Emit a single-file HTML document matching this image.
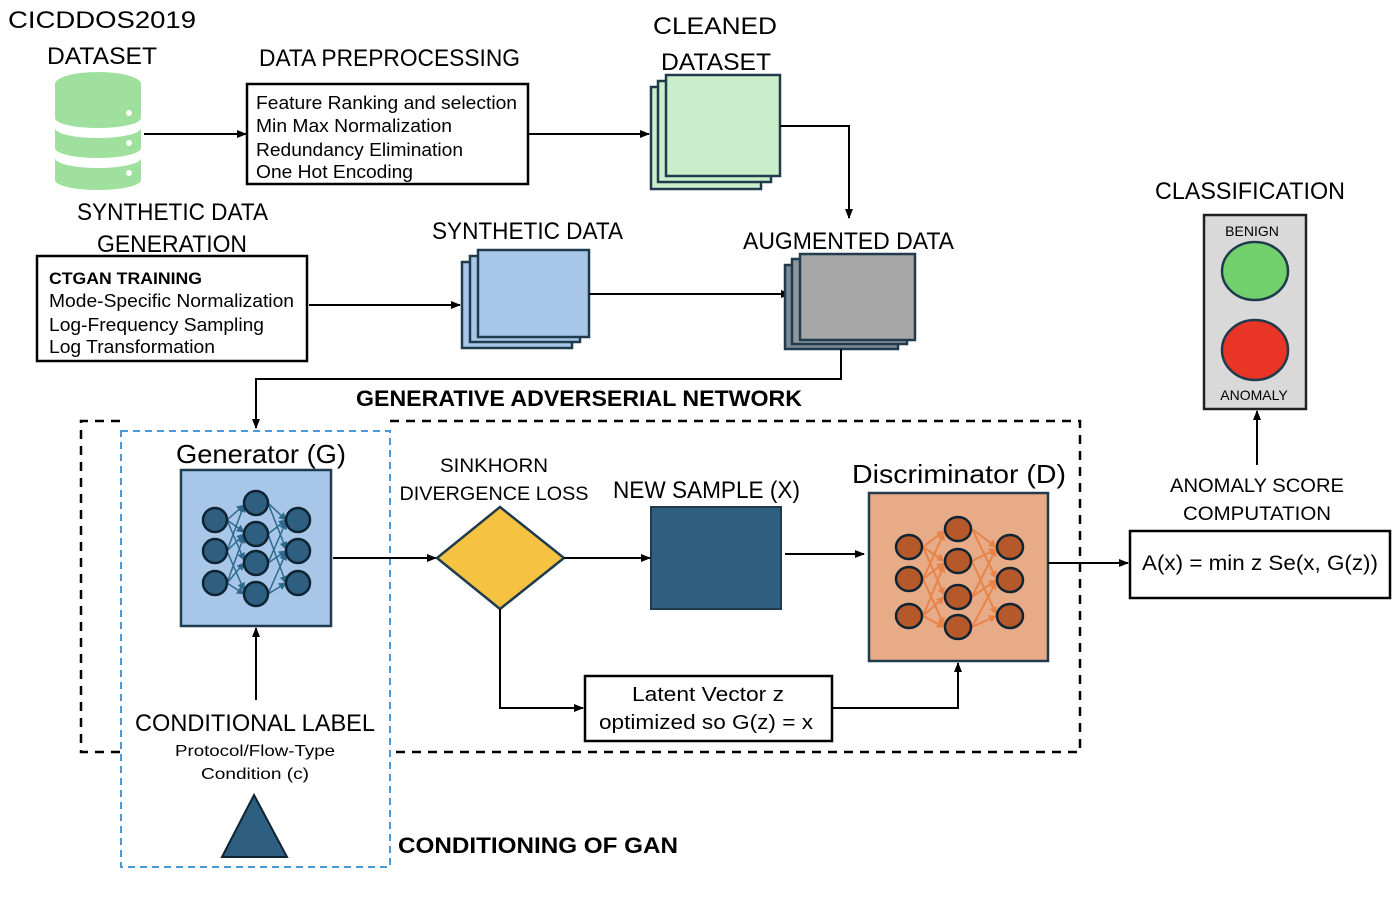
<!DOCTYPE html>
<html><head><meta charset="utf-8"><style>
html,body{margin:0;padding:0;background:#fff;}
svg{display:block;font-family:"Liberation Sans",sans-serif;}
</style></head><body>
<svg width="1399" height="906" viewBox="0 0 1399 906" xmlns="http://www.w3.org/2000/svg">
<defs>
<marker id="a" markerWidth="10" markerHeight="10" refX="9" refY="5" orient="auto" markerUnits="userSpaceOnUse"><path d="M0,1 L10,5 L0,9 z" fill="#000"/></marker>
<marker id="gb" markerWidth="8" markerHeight="8" refX="7" refY="4" orient="auto" markerUnits="userSpaceOnUse"><path d="M0,0 L8,4 L0,8 z" fill="#2e6a8e"/></marker>
<marker id="ob" markerWidth="8" markerHeight="8" refX="7" refY="4" orient="auto" markerUnits="userSpaceOnUse"><path d="M0,0 L8,4 L0,8 z" fill="#e8844a"/></marker>
</defs>
<g font-size="24" fill="#000">
<text x="8" y="28" textLength="188" lengthAdjust="spacingAndGlyphs">CICDDOS2019</text>
<text x="47" y="64" textLength="110" lengthAdjust="spacingAndGlyphs">DATASET</text>
<text x="259" y="66" textLength="261" lengthAdjust="spacingAndGlyphs">DATA PREPROCESSING</text>
<text x="653" y="34" textLength="124" lengthAdjust="spacingAndGlyphs">CLEANED</text>
<text x="661" y="70" textLength="110" lengthAdjust="spacingAndGlyphs">DATASET</text>
<text x="77" y="220" textLength="191" lengthAdjust="spacingAndGlyphs">SYNTHETIC DATA</text>
<text x="97" y="252" textLength="150" lengthAdjust="spacingAndGlyphs">GENERATION</text>
<text x="432" y="239" textLength="191" lengthAdjust="spacingAndGlyphs">SYNTHETIC DATA</text>
<text x="743" y="249" textLength="211" lengthAdjust="spacingAndGlyphs">AUGMENTED DATA</text>
<text x="1155" y="199" textLength="190" lengthAdjust="spacingAndGlyphs">CLASSIFICATION</text>
<text x="176" y="463" font-size="26" textLength="170" lengthAdjust="spacingAndGlyphs">Generator (G)</text>
<text x="852" y="483" font-size="26" textLength="214" lengthAdjust="spacingAndGlyphs">Discriminator (D)</text>
<text x="613" y="498" textLength="187" lengthAdjust="spacingAndGlyphs">NEW SAMPLE (X)</text>
<text x="135" y="731" textLength="240" lengthAdjust="spacingAndGlyphs">CONDITIONAL LABEL</text>
</g>
<!-- cylinder -->
<g fill="#9fe09f">
<path d="M55,84 A43,12 0 0 1 141,84 L141,118 A43,10 0 0 1 55,118 Z"/>
<path d="M55,128 A43,10 0 0 0 141,128 L141,148 A43,10 0 0 1 55,148 Z"/>
<path d="M55,158 A43,10 0 0 0 141,158 L141,180 A43,10 0 0 1 55,180 Z"/>
</g>
<g fill="#fff"><circle cx="129" cy="113" r="3"/><circle cx="129" cy="143" r="3"/><circle cx="129" cy="173" r="3"/></g>
<line x1="144" y1="134" x2="246" y2="134" stroke="#000" stroke-width="2" marker-end="url(#a)"/>
<rect x="247" y="84" width="281" height="100" fill="#fff" stroke="#000" stroke-width="2.5"/>
<g font-size="18.5"><text x="256" y="109" textLength="261" lengthAdjust="spacingAndGlyphs">Feature Ranking and selection</text><text x="256" y="132" textLength="196" lengthAdjust="spacingAndGlyphs">Min Max Normalization</text><text x="256" y="156" textLength="207" lengthAdjust="spacingAndGlyphs">Redundancy Elimination</text><text x="256" y="178" textLength="157" lengthAdjust="spacingAndGlyphs">One Hot Encoding</text></g>
<line x1="528" y1="134" x2="649" y2="134" stroke="#000" stroke-width="2" marker-end="url(#a)"/>
<g fill="#c9eec9" stroke="#1f3b4d" stroke-width="2.5">
<rect x="651" y="87" width="110" height="102"/><rect x="658" y="81" width="113" height="101"/><rect x="666" y="75" width="114" height="101"/></g>
<polyline points="780,126 849,126 849,218" fill="none" stroke="#000" stroke-width="2" marker-end="url(#a)"/>
<rect x="37" y="256" width="270" height="105" fill="#fff" stroke="#000" stroke-width="2.5"/>
<g font-size="18.5"><text x="49" y="284" font-weight="bold" font-size="17" textLength="153" lengthAdjust="spacingAndGlyphs">CTGAN TRAINING</text><text x="49" y="307" textLength="245" lengthAdjust="spacingAndGlyphs">Mode-Specific Normalization</text><text x="49" y="331" textLength="215" lengthAdjust="spacingAndGlyphs">Log-Frequency Sampling</text><text x="49" y="353" textLength="166" lengthAdjust="spacingAndGlyphs">Log Transformation</text></g>
<line x1="309" y1="305" x2="460" y2="305" stroke="#000" stroke-width="2" marker-end="url(#a)"/>
<g fill="#a8c6e8" stroke="#1f3b4d" stroke-width="2.5">
<rect x="462" y="262" width="110" height="86"/><rect x="470" y="256" width="110" height="86"/><rect x="478" y="250" width="111" height="87"/></g>
<line x1="589" y1="294" x2="790" y2="294" stroke="#000" stroke-width="2" marker-end="url(#a)"/>
<g stroke="#1f3b4d" stroke-width="2.5">
<rect x="785" y="265" width="113" height="84" fill="#7f8a94"/><rect x="792" y="259" width="115" height="85" fill="#8f979e"/><rect x="800" y="254" width="115" height="86" fill="#a6a6a6"/></g>
<polyline points="841,349 841,379 256,379 256,428" fill="none" stroke="#000" stroke-width="2" marker-end="url(#a)"/>
<text x="356" y="406" font-size="22" font-weight="bold" textLength="446" lengthAdjust="spacingAndGlyphs">GENERATIVE ADVERSERIAL NETWORK</text>
<g fill="none" stroke="#000" stroke-width="2.5" stroke-dasharray="9,7">
<polyline points="120,421 81,421 81,752 120,752"/>
<polyline points="390,421 1080,421 1080,752 390,752"/>
</g>
<rect x="121" y="431" width="269" height="436" fill="none" stroke="#4a9ad6" stroke-width="2" stroke-dasharray="7,5"/>
<!-- generator -->
<rect x="181" y="470" width="150" height="156" fill="#a8c6e8" stroke="#1f3b4d" stroke-width="2.5"/>
<g stroke="#2e6a8e" stroke-width="1.5" marker-end="url(#gb)">
<line x1="227" y1="520" x2="244" y2="505"/><line x1="227" y1="520" x2="244" y2="532"/><line x1="227" y1="520" x2="244" y2="560"/>
<line x1="227" y1="551" x2="244" y2="505"/><line x1="227" y1="551" x2="244" y2="534"/><line x1="227" y1="551" x2="244" y2="590"/>
<line x1="227" y1="583" x2="244" y2="563"/><line x1="227" y1="583" x2="244" y2="594"/><line x1="227" y1="583" x2="244" y2="536"/>
<line x1="268" y1="503" x2="286" y2="520"/><line x1="268" y1="503" x2="286" y2="549"/><line x1="268" y1="534" x2="286" y2="520"/><line x1="268" y1="534" x2="286" y2="583"/>
<line x1="268" y1="563" x2="286" y2="551"/><line x1="268" y1="563" x2="286" y2="522"/><line x1="268" y1="594" x2="286" y2="583"/><line x1="268" y1="594" x2="286" y2="553"/>
</g>
<g fill="#2e5f80" stroke="#0f2433" stroke-width="2.5">
<circle cx="215" cy="520" r="12"/><circle cx="215" cy="551" r="12"/><circle cx="215" cy="583" r="12"/>
<circle cx="256" cy="503" r="12"/><circle cx="256" cy="534" r="12"/><circle cx="256" cy="563" r="12"/><circle cx="256" cy="594" r="12"/>
<circle cx="298" cy="520" r="12"/><circle cx="298" cy="551" r="12"/><circle cx="298" cy="583" r="12"/></g>
<line x1="256" y1="700" x2="256" y2="628" stroke="#000" stroke-width="2" marker-end="url(#a)"/>
<line x1="333" y1="558" x2="436" y2="558" stroke="#000" stroke-width="2" marker-end="url(#a)"/>
<text x="494" y="472" font-size="19" text-anchor="middle" textLength="108" lengthAdjust="spacingAndGlyphs">SINKHORN</text>
<text x="494" y="500" font-size="19" text-anchor="middle" textLength="189" lengthAdjust="spacingAndGlyphs">DIVERGENCE LOSS</text>
<polygon points="500,507 564,558 500,609 437,558" fill="#f5c242" stroke="#1f3b4d" stroke-width="2.5"/>
<line x1="564" y1="558" x2="650" y2="558" stroke="#000" stroke-width="2" marker-end="url(#a)"/>
<rect x="651" y="507" width="130" height="102" fill="#2e5f80" stroke="#1f3b4d" stroke-width="2"/>
<line x1="785" y1="554" x2="864" y2="554" stroke="#000" stroke-width="2" marker-end="url(#a)"/>
<!-- discriminator -->
<rect x="869" y="493" width="179" height="168" fill="#e8ab87" stroke="#1f3b4d" stroke-width="2.5"/>
<g stroke="#e8844a" stroke-width="2" marker-end="url(#ob)">
<line x1="923" y1="547" x2="944" y2="531"/><line x1="923" y1="547" x2="944" y2="561"/><line x1="923" y1="547" x2="944" y2="595"/>
<line x1="923" y1="579" x2="944" y2="533"/><line x1="923" y1="579" x2="944" y2="563"/><line x1="923" y1="579" x2="944" y2="625"/>
<line x1="923" y1="616" x2="944" y2="597"/><line x1="923" y1="616" x2="944" y2="627"/><line x1="923" y1="616" x2="944" y2="565"/>
<line x1="972" y1="529" x2="996" y2="547"/><line x1="972" y1="529" x2="996" y2="578"/><line x1="972" y1="561" x2="996" y2="549"/><line x1="972" y1="561" x2="996" y2="614"/>
<line x1="972" y1="597" x2="996" y2="580"/><line x1="972" y1="597" x2="996" y2="549"/><line x1="972" y1="627" x2="996" y2="616"/><line x1="972" y1="627" x2="996" y2="582"/>
</g>
<g fill="#b5582a" stroke="#0f2433" stroke-width="2.5">
<ellipse cx="909" cy="547" rx="13" ry="12"/><ellipse cx="909" cy="579" rx="13" ry="12"/><ellipse cx="909" cy="616" rx="13" ry="12"/>
<ellipse cx="958" cy="529" rx="13" ry="12"/><ellipse cx="958" cy="561" rx="13" ry="12"/><ellipse cx="958" cy="597" rx="13" ry="12"/><ellipse cx="958" cy="627" rx="13" ry="12"/>
<ellipse cx="1010" cy="547" rx="13" ry="12"/><ellipse cx="1010" cy="580" rx="13" ry="12"/><ellipse cx="1010" cy="616" rx="13" ry="12"/></g>
<polyline points="500,609 500,708 583,708" fill="none" stroke="#000" stroke-width="2" marker-end="url(#a)"/>
<rect x="585" y="676" width="247" height="65" fill="#fff" stroke="#000" stroke-width="2.5"/>
<text x="708" y="701" font-size="20" text-anchor="middle" textLength="152" lengthAdjust="spacingAndGlyphs">Latent Vector z</text>
<text x="706" y="729" font-size="20" text-anchor="middle" textLength="214" lengthAdjust="spacingAndGlyphs">optimized so G(z) = x</text>
<polyline points="832,708 958,708 958,663" fill="none" stroke="#000" stroke-width="2" marker-end="url(#a)"/>
<line x1="1048" y1="563" x2="1128" y2="563" stroke="#000" stroke-width="2" marker-end="url(#a)"/>
<rect x="1130" y="531" width="260" height="67" fill="#fff" stroke="#000" stroke-width="2.5"/>
<text x="1260" y="570" font-size="21" text-anchor="middle" textLength="236" lengthAdjust="spacingAndGlyphs">A(x) = min z Se(x, G(z))</text>
<text x="1257" y="492" font-size="19" text-anchor="middle" textLength="174" lengthAdjust="spacingAndGlyphs">ANOMALY SCORE</text>
<text x="1257" y="520" font-size="19" text-anchor="middle" textLength="148" lengthAdjust="spacingAndGlyphs">COMPUTATION</text>
<line x1="1257" y1="465" x2="1257" y2="411" stroke="#000" stroke-width="2" marker-end="url(#a)"/>
<rect x="1204" y="215" width="102" height="194" fill="#d9d9d9" stroke="#222" stroke-width="2.5"/>
<text x="1252" y="236" font-size="14" text-anchor="middle">BENIGN</text>
<ellipse cx="1255" cy="271" rx="33" ry="29" fill="#72d16c" stroke="#1f3b4d" stroke-width="2.5"/>
<ellipse cx="1255" cy="350" rx="33" ry="30" fill="#e83526" stroke="#1f3b4d" stroke-width="2.5"/>
<text x="1254" y="400" font-size="14" text-anchor="middle">ANOMALY</text>
<text x="255" y="756" font-size="16" text-anchor="middle" textLength="160" lengthAdjust="spacingAndGlyphs">Protocol/Flow-Type</text>
<text x="255" y="779" font-size="16" text-anchor="middle" textLength="108" lengthAdjust="spacingAndGlyphs">Condition (c)</text>
<polygon points="254,795 287,857 222,857" fill="#2e5f80" stroke="#0f2433" stroke-width="2"/>
<text x="398" y="853" font-size="22" font-weight="bold" textLength="280" lengthAdjust="spacingAndGlyphs">CONDITIONING OF GAN</text>
</svg>
</body></html>
